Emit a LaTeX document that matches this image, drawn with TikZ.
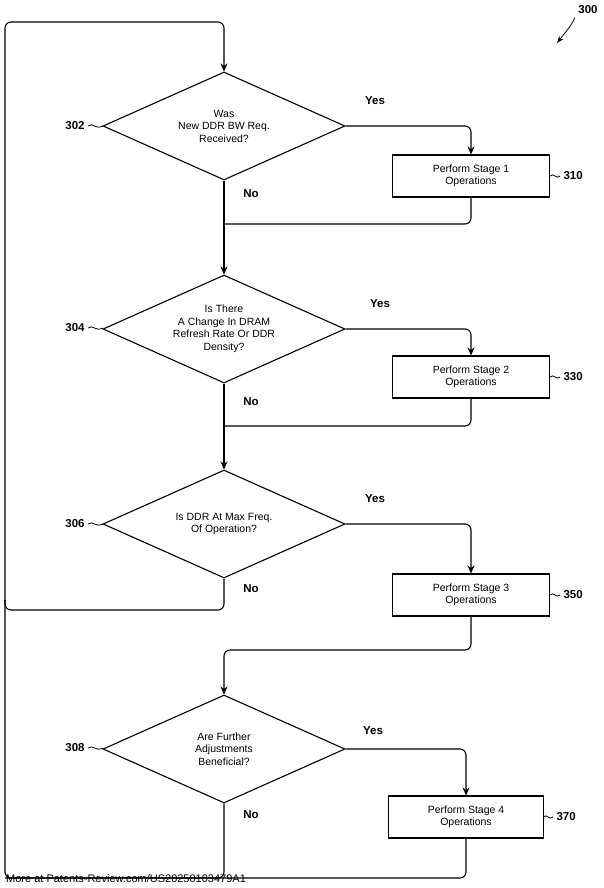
\documentclass[tikz,border=0pt]{standalone}
\usepackage{fontspec}
\setmainfont{Liberation Sans}
\usetikzlibrary{shapes.geometric,arrows.meta}
\begin{document}
\begin{tikzpicture}[x=1pt,y=-1pt,
  dec/.style={diamond,draw,line width=1.1pt,minimum width=242pt,minimum height=108pt,inner sep=0pt,align=center,font=\fontsize{10.5}{12.5}\selectfont,aspect=2.24},
  opbox/.style={draw,line width=1.1pt,minimum width=157pt,minimum height=42pt,align=center,font=\fontsize{10.5}{12.5}\selectfont},
  lab/.style={font=\bfseries\fontsize{11.5}{13}\selectfont},
  conn/.style={line width=1.1pt,rounded corners=6pt},
  arr/.style={conn,-{Stealth[length=8pt,width=7pt]}},
  tl/.style={line width=0.8pt}]
\useasboundingbox (0,0) rectangle (604,888);
\node[dec] (d302) at (224,126) {Was\\New DDR BW Req.\\Received?};
\node[dec] (d304) at (224,329) {Is There\\A Change In DRAM\\Refresh Rate Or DDR\\Density?};
\node[dec] (d306) at (224,524) {Is DDR At Max Freq.\\Of Operation?};
\node[dec] (d308) at (224,749) {Are Further\\Adjustments\\Beneficial?};
\node[opbox] (b310) at (471,176) {Perform Stage 1\\Operations};
\node[opbox] (b330) at (471,377) {Perform Stage 2\\Operations};
\node[opbox] (b350) at (471,595) {Perform Stage 3\\Operations};
\node[opbox,minimum width=155pt] (b370) at (466,817) {Perform Stage 4\\Operations};
% yes branches
\draw[arr] (d302.east) -| (b310.north);
\draw[arr] (d304.east) -| (b330.north);
\draw[arr] (d306.east) -| (b350.north);
\draw[arr] (d308.east) -| (b370.north);
% merges
\coordinate (m1) at (224,224);
\coordinate (m2) at (224,426);
\coordinate (m3) at (224,650);
\draw[conn] (d302.south) -- (m1);
\draw[conn] (b310.south) |- (m1);
\draw[arr] (m1) -- (d304.north);
\draw[conn] (d304.south) -- (m2);
\draw[conn] (b330.south) |- (m2);
\draw[arr] (m2) -- (d306.north);
\draw[arr] (b350.south) |- (m3) -- (d308.north);
% loop back
\coordinate (tl) at (5,22);
\coordinate (bl) at (5,878);
\draw[arr] (d306.south) |- (5,610) -- (tl) -| (d302.north);
\draw[conn] (d308.south) |- (bl) -- (5,600);
\draw[conn] (b370.south) |- (bl);
% yes/no labels
\node[lab] at (375,101) {Yes};
\node[lab] at (251,194) {No};
\node[lab] at (380,304) {Yes};
\node[lab] at (251,402) {No};
\node[lab] at (375,499) {Yes};
\node[lab] at (251,589) {No};
\node[lab] at (373,731) {Yes};
\node[lab] at (251,815) {No};
% reference numerals
\foreach \n/\y in {302/126,304/328,306/524,308/748}{
  \node[lab] (r\n) at (75,\y) {\n};
  \draw[tl] (r\n.east) .. controls (93,\y-4) and (95,\y+4) .. (103,\y);
}
\foreach \n/\x/\y in {310/550/176,330/550/377,350/550/595,370/543/817}{
  \node[lab,anchor=west] (r\n) at (\x+10,\y) {\n};
  \draw[tl] (\x,\y) .. controls (\x+4,\y-4) and (\x+6,\y+4) .. (r\n.west);
}
\node[lab] (r300) at (588,10) {300};
\coordinate (a300) at (557,43);
\draw[tl,-{Stealth[length=7pt]}] (r300.south west) .. controls (572,24) .. (a300);
\node[anchor=south west,font=\fontsize{11}{13}\selectfont,inner sep=1pt] (wm) at (5,884) {More at Patents-Review.com/US20250103479A1};
\end{tikzpicture}
\end{document}
